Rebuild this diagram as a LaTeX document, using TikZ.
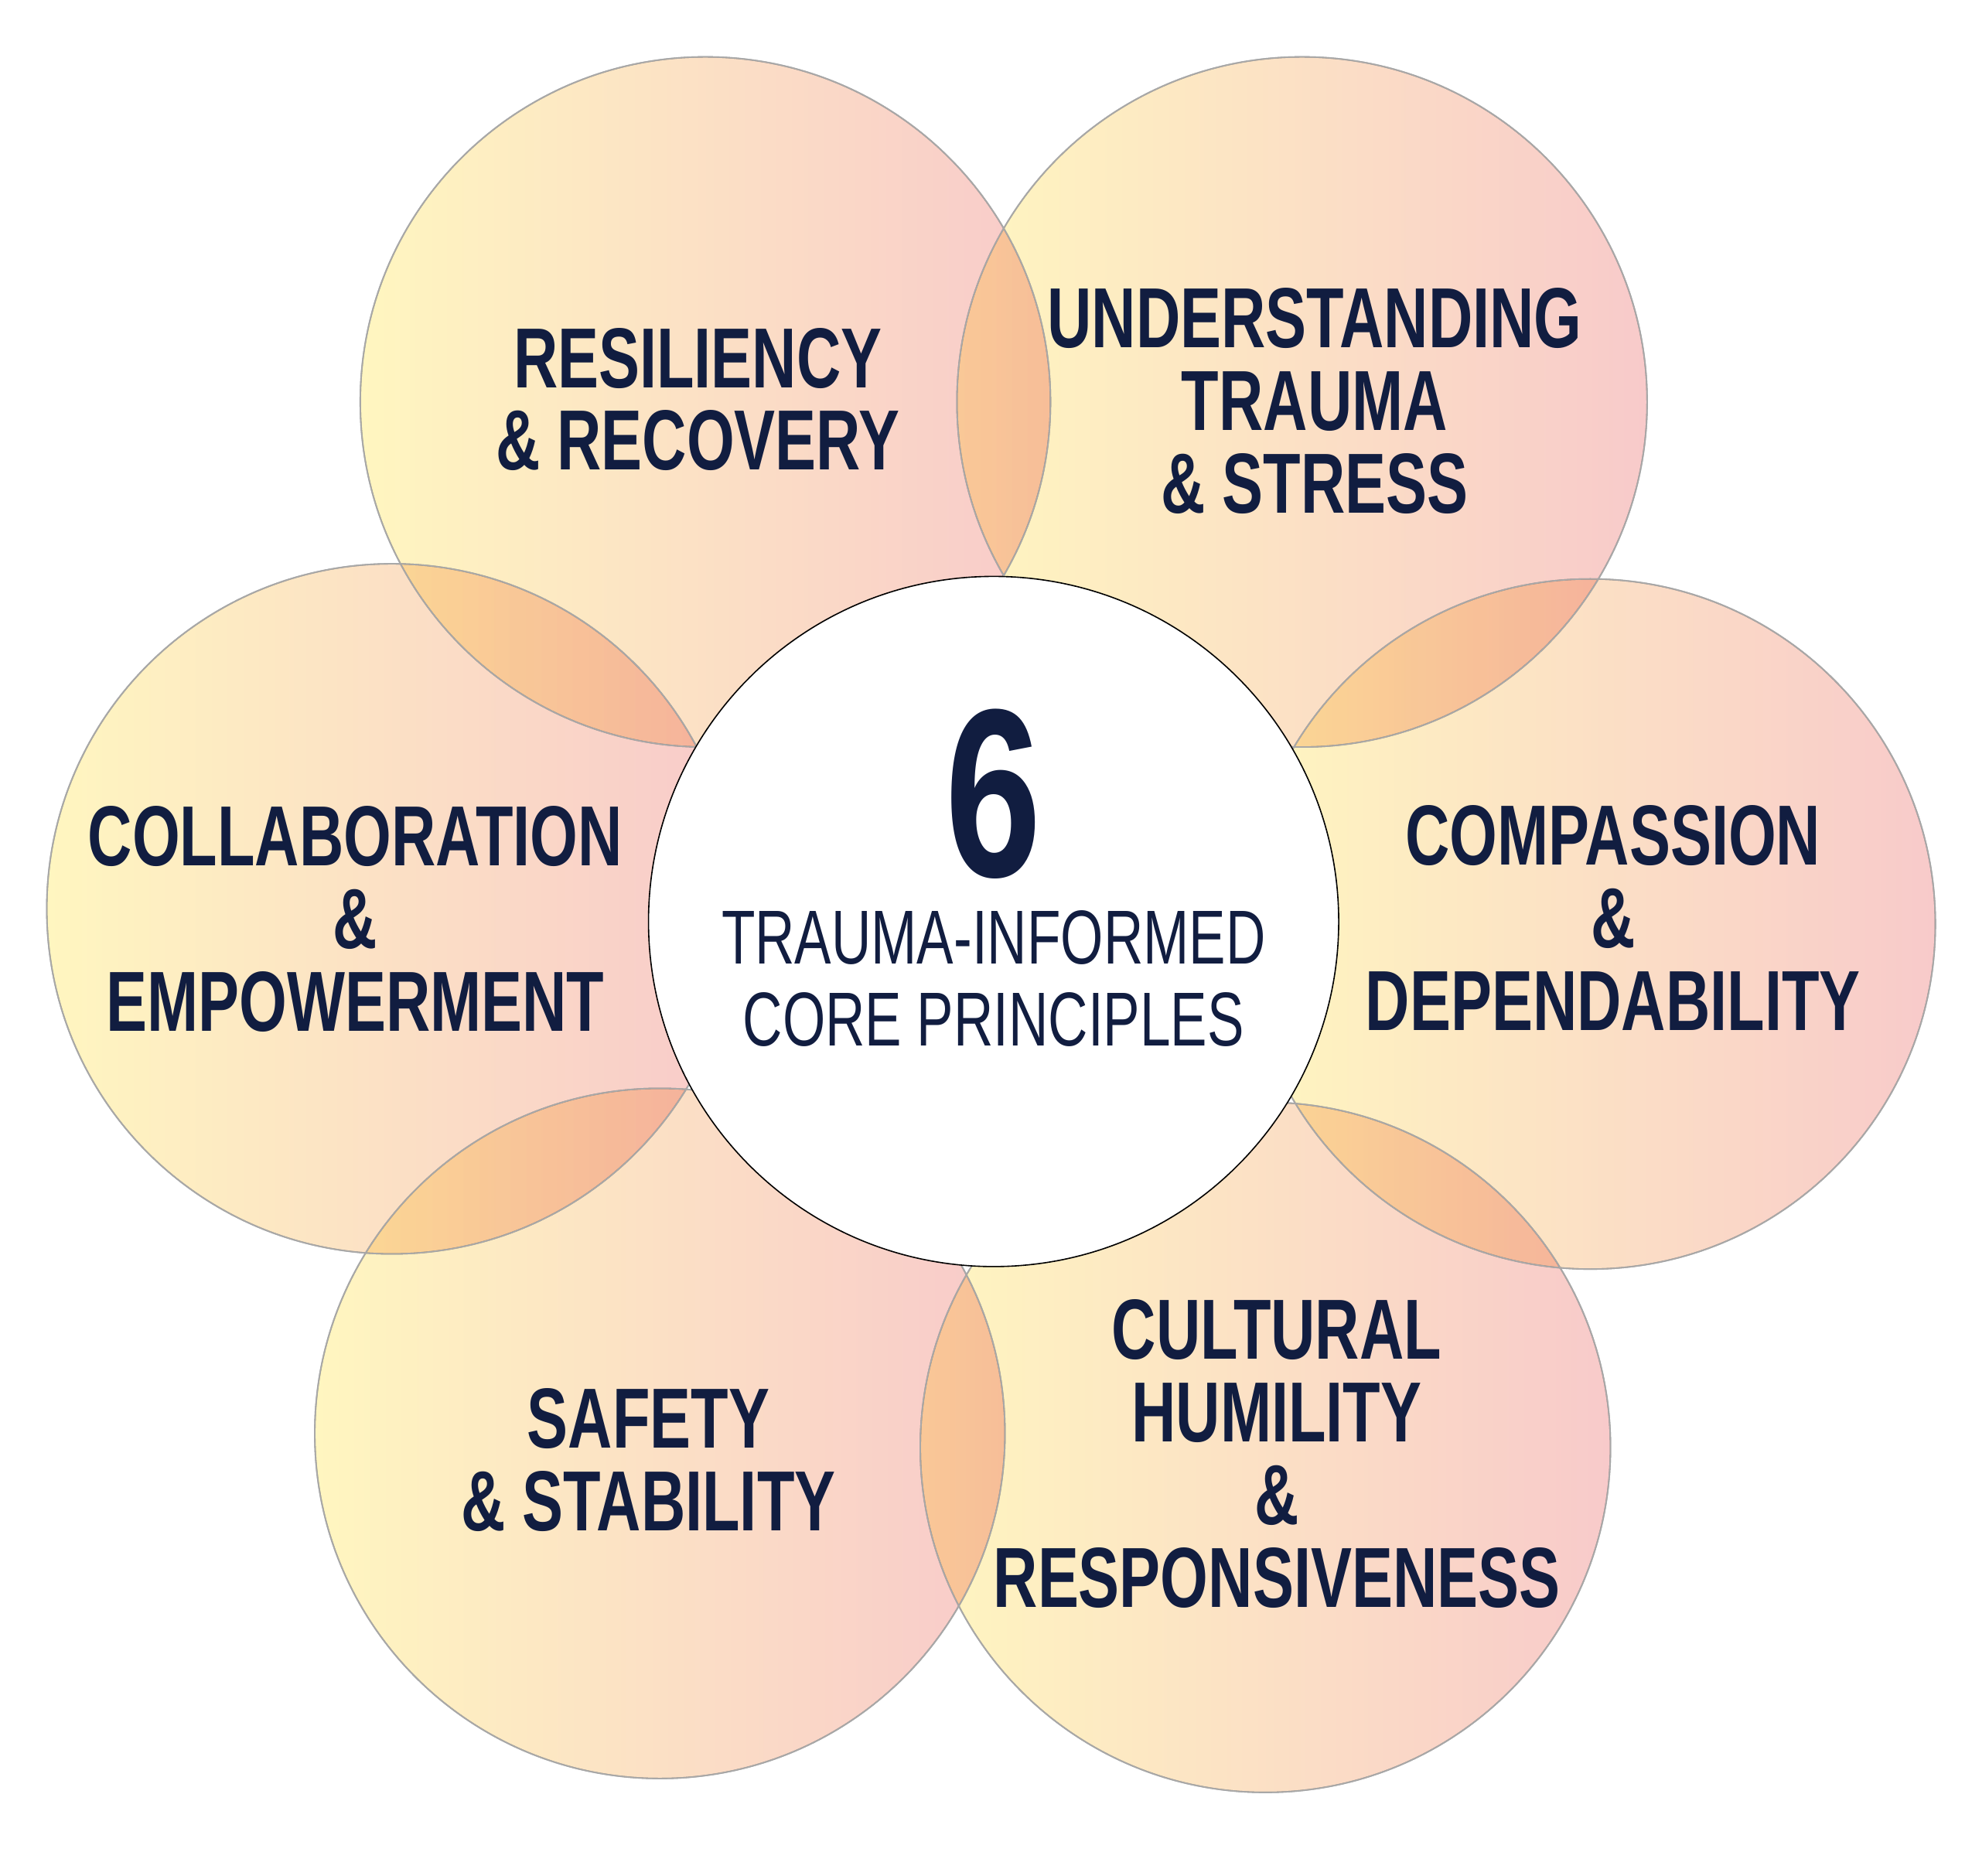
\documentclass[tikz,border=0pt]{standalone}
\usepackage{fontspec}
\setmainfont{Liberation Sans}[FakeStretch=0.72]
\newfontfamily\lblfont{Liberation Sans}[FakeStretch=0.72]
\definecolor{navy}{HTML}{111D40}
\definecolor{cy}{HTML}{FFF6C0}
\definecolor{cp}{HTML}{F8CACA}
\definecolor{ring}{HTML}{A8A8A8}
\begin{document}
\begin{tikzpicture}[x=0.05cm,y=-0.05cm,
  petal/.style={left color=cy,right color=cp,draw=ring,line width=1.6pt},
  lbl/.style={text=navy,font=\fontsize{96}{93}\selectfont\bfseries,align=center}]
\fill[white] (0,0) rectangle (1560,1484);
\useasboundingbox (0,0) rectangle (1560,1484);
\begin{scope}[blend mode=multiply]
\shade[petal] (558,318) circle (273);
\shade[petal] (1030,318) circle (273);
\shade[petal] (1258,731) circle (273);
\shade[petal] (1001,1145) circle (273);
\shade[petal] (522,1134) circle (273);
\shade[petal] (310,719) circle (273);
\end{scope}
\begin{scope}[draw=ring,line width=1.6pt]
\draw (558,318) circle (273);
\draw (1030,318) circle (273);
\draw (1258,731) circle (273);
\draw (1001,1145) circle (273);
\draw (522,1134) circle (273);
\draw (310,719) circle (273);
\end{scope}
\node[circle,draw=black,fill=white,line width=1.4pt,minimum size=546*0.05cm] (c) at (786,729) {};
\node[lbl] (n1) at (552,316) {RESILIENCY\\\& RECOVERY};
\node[lbl] (n2) at (1040,317) {UNDERSTANDING\\TRAUMA\\\& STRESS};
\node[lbl] (n3) at (1276,726) {COMPASSION\\\&\\DEPENDABILITY};
\node[lbl] (n4) at (1010,1150) {CULTURAL\\HUMILITY\\\&\\RESPONSIVENESS};
\node[lbl] (n5) at (513,1155) {SAFETY\\\& STABILITY};
\node[lbl] (n6) at (281,727) {COLLABORATION\\\&\\EMPOWERMENT};
\node[text=navy,font=\fontsize{270}{270}\selectfont\bfseries] (six) at (786,628) {6};
\node[text=navy,font=\fontsize{86}{92}\selectfont,align=center] (ct) at (786,774) {TRAUMA-INFORMED\\CORE PRINCIPLES};
\end{tikzpicture}
\end{document}
